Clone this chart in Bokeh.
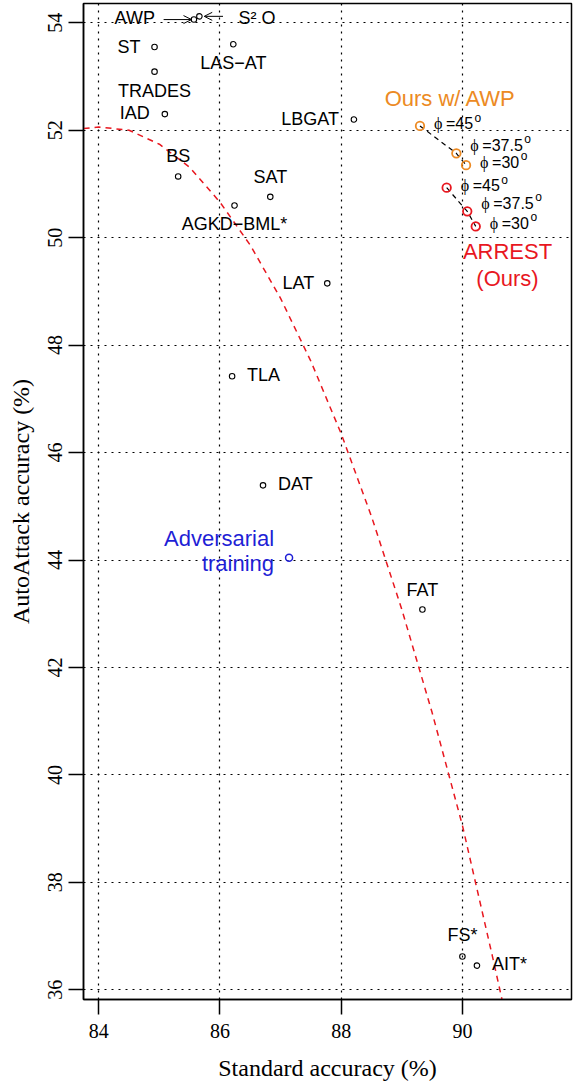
from bokeh.plotting import figure
from bokeh.models import ColumnDataSource, Range1d, FixedTicker, Arrow, OpenHead, Label
from bokeh.embed import file_html
from bokeh.resources import INLINE
from bokeh.core.properties import value, field

# ---------------- data ----------------
methods = ["AWP", "S\u00b2 O", "ST", "LAS\u2212AT", "TRADES", "IAD", "LBGAT", "BS", "SAT",
           "AGKD\u2212BML*", "LAT", "TLA", "DAT", "FAT", "FS*", "AIT*"]
std_acc = [85.57, 85.66, 84.92, 86.22, 84.92, 85.09, 88.21, 85.31, 86.83,
           86.24, 87.77, 86.20, 86.71, 89.34, 90.00, 90.24]
aa_acc = [54.06, 54.12, 53.55, 53.60, 53.09, 52.30, 52.20, 51.14, 50.76,
          50.60, 49.15, 47.42, 45.39, 43.08, 36.62, 36.45]

at_label = "Adversarial\ntraining"
at_std = [87.14]
at_aa = [44.04]

phi_vals = ["45", "37.5", "30"]
arrest_std = [89.74, 90.08, 90.22]
arrest_aa = [50.93, 50.49, 50.21]
awp_std = [89.30, 89.90, 90.06]
awp_aa = [52.08, 51.57, 51.35]

# red dashed trade-off curve
trend_std = [83.75, 84.0, 84.5, 85.0, 85.5, 86.0, 86.5, 87.0, 87.5, 88.0,
             88.5, 89.0, 89.5, 90.0, 90.5, 90.8]
trend_aa = [52.03, 52.06, 52.00, 51.74, 51.31, 50.66, 49.86, 48.87, 47.70, 46.35,
            44.81, 43.08, 41.16, 39.06, 36.60, 35.07]

x_ticks = [84, 86, 88, 90]
y_ticks = [36, 38, 40, 42, 44, 46, 48, 50, 52, 54]

# ---------------- styles ----------------
ORANGE = "#EC8A23"
RED = "#E8171F"
BLUE = "#1F1FD6"
SANS = "Liberation Sans"
SERIF = "Liberation Serif"

lab_dx = [-39, 39, -14, 0, 0, -15, -15, 0, 0, 0, -13, 15, 15, 0, 0, 15]
lab_dy = [-1.5, 1.5, 0, 19, 19, -1, -0.5, -20, -20, 19, 0, -1, -1.7, -19, -21, -1.5]
lab_al = ["right", "left", "right", "center", "center", "right", "right", "center",
          "center", "center", "right", "left", "left", "center", "center", "left"]
phi_dy = [-2, -8, -3]
NUM_PX = 16
NUM_DX = 26
_adv = {"=": 0.584, ".": 0.278}
sup_dx = [NUM_DX + NUM_PX * sum(_adv.get(c, 0.556) for c in "=" + v) + 1.5 for v in phi_vals]
sup_dy = [d - 6 for d in phi_dy]

p = figure(width=573, height=1088,
           x_range=Range1d(83.748, 91.80), y_range=Range1d(35.819, 54.359),
           output_backend="svg", toolbar_location=None,
           min_border_left=83, min_border_right=2, min_border_top=3, min_border_bottom=89)
p.background_fill_color = "white"
p.border_fill_color = "white"
p.outline_line_color = "black"
p.outline_line_width = 1.5
p.outline_line_alpha = 1.0

p.xaxis.ticker = FixedTicker(ticks=x_ticks)
p.yaxis.ticker = FixedTicker(ticks=y_ticks)
p.grid.grid_line_color = "black"
p.grid.grid_line_dash = "2 5"
p.grid.grid_line_width = 1.2

for ax in (p.xaxis, p.yaxis):
    ax.major_label_text_font = SERIF
    ax.major_label_text_font_size = "20px"
    ax.major_label_text_color = "black"
    ax.major_tick_out = 15
    ax.major_tick_in = 0
    ax.major_tick_line_width = 1.5
    ax.major_tick_line_color = "black"
    ax.minor_tick_line_color = None
    ax.axis_line_color = "black"
    ax.axis_line_width = 1.5
    ax.axis_label_text_font = SERIF
    ax.axis_label_text_font_size = "24px"
    ax.axis_label_text_font_style = "normal"
    ax.axis_label_text_color = "black"

p.xaxis.axis_label = "Standard accuracy (%)"
p.yaxis.axis_label = "AutoAttack accuracy (%)"
p.xaxis.major_label_standoff = 9
p.xaxis.axis_label_standoff = 14
p.yaxis.major_label_orientation = "vertical"
p.yaxis.major_label_standoff = 6
p.yaxis.axis_label_standoff = 12

# trade-off curve
p.line(trend_std, trend_aa, line_color=RED, line_width=1.5, line_dash="6 5")

# connectors of our variants
p.line(awp_std, awp_aa, line_color="black", line_width=1.2, line_dash="5 4")
p.line(arrest_std, arrest_aa, line_color="black", line_width=1.2, line_dash="5 4")

# baseline points + labels
src = ColumnDataSource(dict(x=std_acc, y=aa_acc, t=methods, dx=lab_dx, dy=lab_dy, al=lab_al))
p.scatter("x", "y", source=src, marker="circle", size=5.5, fill_color=None,
          line_color="black", line_width=1.1)
p.text("x", "y", text="t", source=src, x_offset=field("dx"), y_offset=field("dy"),
       text_align=field("al"), text_baseline="middle",
       text_font=value(SANS), text_font_size=value("18px"), text_color="black")

# arrows for AWP and S2O
p.add_layout(Arrow(end=OpenHead(size=8, line_width=1.0, line_color="black"),
                   x_start=std_acc[0] - 0.50, y_start=aa_acc[0],
                   x_end=std_acc[0] - 0.04, y_end=aa_acc[0],
                   line_color="black", line_width=1.0))
p.add_layout(Arrow(end=OpenHead(size=8, line_width=1.0, line_color="black"),
                   x_start=std_acc[1] + 0.39, y_start=aa_acc[1],
                   x_end=std_acc[1] + 0.08, y_end=aa_acc[1],
                   line_color="black", line_width=1.0))

# adversarial training (blue)
at_src = ColumnDataSource(dict(x=at_std, y=at_aa, t=[at_label]))
p.scatter("x", "y", source=at_src, marker="circle", size=7, fill_color=None,
          line_color=BLUE, line_width=1.5)
p.text("x", "y", text="t", source=at_src, x_offset=-15, y_offset=-7,
       text_align="right", text_baseline="middle", text_line_height=1.0,
       text_font=value(SANS), text_font_size=value("22px"), text_color=BLUE)

# our variants
num_txt = ["=" + v for v in phi_vals]
for xs, ys, col in ((awp_std, awp_aa, ORANGE), (arrest_std, arrest_aa, RED)):
    s = ColumnDataSource(dict(x=xs, y=ys, ph=["\u03d5"] * len(xs), t=num_txt,
                              o=["o"] * len(xs), dy=phi_dy, sdx=sup_dx, sdy=sup_dy))
    p.scatter("x", "y", source=s, marker="circle", size=8.5, fill_color=None,
              line_color=col, line_width=1.8)
    p.text("x", "y", text="ph", source=s, x_offset=14, y_offset=field("dy"),
           text_align="left", text_baseline="middle",
           text_font=value(SERIF), text_font_size=value("16px"), text_color="black")
    p.text("x", "y", text="t", source=s, x_offset=NUM_DX, y_offset=field("dy"),
           text_align="left", text_baseline="middle",
           text_font=value(SANS), text_font_size=value("%dpx" % NUM_PX), text_color="black")
    p.text("x", "y", text="o", source=s, x_offset=field("sdx"), y_offset=field("sdy"),
           text_align="left", text_baseline="middle",
           text_font=value(SANS), text_font_size=value("12px"), text_color="black")

OURS_AWP_X, OURS_AWP_Y = 89.80, 52.585
ARREST_X, ARREST_Y = 90.744, 49.495
p.add_layout(Label(x=OURS_AWP_X, y=OURS_AWP_Y, text="Ours w/ AWP", text_align="center",
                   text_baseline="middle", text_font=SANS, text_font_size="22px",
                   text_color=ORANGE))
p.add_layout(Label(x=ARREST_X, y=ARREST_Y, text="ARREST\n(Ours)", text_align="center",
                   text_baseline="middle", text_font=SANS, text_font_size="22px",
                   text_color=RED, text_line_height=1.07))

open("out.html", "w").write(file_html(p, INLINE))
